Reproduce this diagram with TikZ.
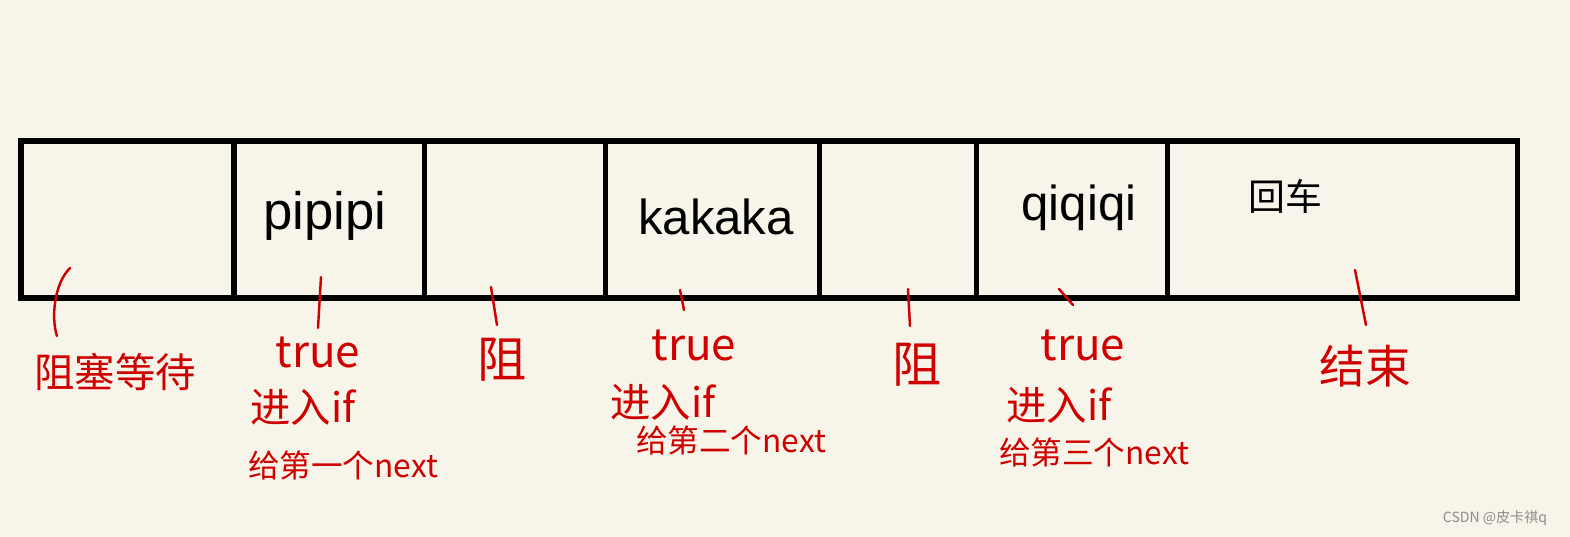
\documentclass[tikz,border=0pt]{standalone}
\usepackage{fontspec}
\setmainfont{Liberation Sans}
\newfontfamily\cjk{Noto Sans CJK SC}
\usepackage{tikz}
\usetikzlibrary{positioning}
\definecolor{paper}{HTML}{F7F5E9}
\definecolor{pen}{HTML}{D00000}

\begin{document}
\begin{tikzpicture}[x=0.02cm, y=-0.02cm, node distance=0pt,
    cell/.style={rectangle, draw, line width=2.9pt, minimum height=3.14cm, inner sep=0pt, outer sep=0pt},
    word/.style={font=\fontsize{#1}{#1}\selectfont},
    word/.default=28,
    note/.style={text=pen, inner sep=0pt, font=\cjk\fontsize{#1}{#1}\selectfont},
    note/.default=18,
    penstroke/.style={draw=pen, line width=1.4pt, line cap=round}]
    \fill[paper] (0,0) rectangle (1570,537);

    % the row of cells
    \node[cell, minimum width=4.26cm, anchor=west] (c1) at (21,219.5) {};
    \node[cell, minimum width=3.82cm, right=of c1] (c2) {};
    \node[cell, minimum width=3.62cm, right=of c2] (c3) {};
    \node[cell, minimum width=4.28cm, right=of c3] (c4) {};
    \node[cell, minimum width=3.14cm, right=of c4] (c5) {};
    \node[cell, minimum width=3.82cm, right=of c5] (c6) {};
    \node[cell, minimum width=7.00cm, right=of c6] (c7) {};

    \node[word=30] (pi) at (325,216) {pipipi};
    \node[word] (ka) at (716,217) {kakaka};
    \node[word] (qi) at (1079,208) {qiqiqi};
    \node[font=\cjk\fontsize{21}{21}\selectfont] (cr) at (1285,196) {回车};

    % notes under the cells
    \node[note=23] (wait) at (115,372) {阻塞等待};
    \node[note=25] (true1) at (318,352) {true};
    \node[note=23] (if1) at (303,407) {进入if};
    \node[note] (next1) at (343,465) {给第一个next};
    \node[note=28] (zu1) at (502,360) {阻};
    \node[note=25] (true2) at (694,345) {true};
    \node[note=23] (if2) at (663,402) {进入if};
    \node[note] (next2) at (731,440) {给第二个next};
    \node[note=28] (zu2) at (917,365) {阻};
    \node[note=25] (true3) at (1083,345) {true};
    \node[note=23] (if3) at (1059,405) {进入if};
    \node[note] (next3) at (1094,452) {给第三个next};
    \node[note=26] (end) at (1365,366) {结束};

    \coordinate (a1) at (70,268);   \coordinate (b1) at (57,336);
    \coordinate (a2) at (321,277);  \coordinate (b2) at (318,328);
    \coordinate (a3) at (491,287);  \coordinate (b3) at (497,325);
    \coordinate (a4) at (680,290);  \coordinate (b4) at (684,310);
    \coordinate (a5) at (908,289);  \coordinate (b5) at (910,326);
    \coordinate (a6) at (1059,289); \coordinate (b6) at (1073,305);
    \coordinate (a7) at (1355,270); \coordinate (b7) at (1366,325);
    \draw[penstroke] (a1) .. controls (54,284) and (51,318) .. (b1);
    \foreach \i in {2,...,7}
        \draw[penstroke] (a\i) -- (b\i);

    \node[text=black!45, font=\cjk\fontsize{8}{8}\selectfont] (mark) at (1495,518) {CSDN @皮卡祺q};
\end{tikzpicture}
\end{document}
